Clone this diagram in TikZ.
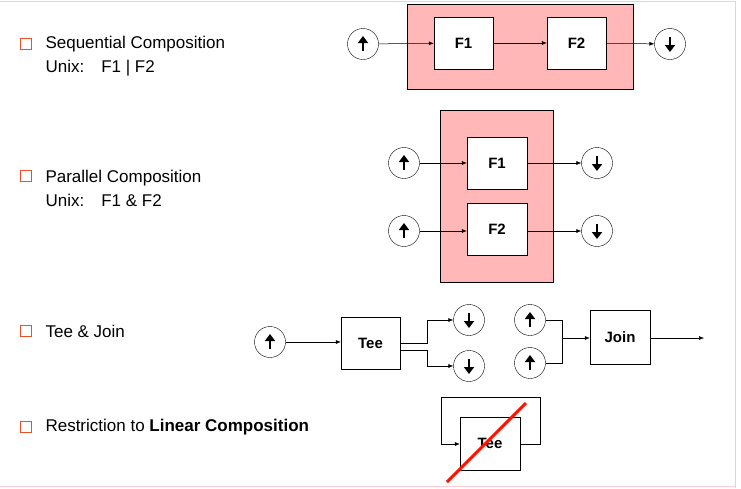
\documentclass[tikz,border=0pt]{standalone}
\usepackage{fontspec}
\setmainfont{Liberation Sans}
\usetikzlibrary{arrows.meta}
\definecolor{pinkbg}{RGB}{255,183,183}
\definecolor{bul}{RGB}{235,80,40}
\begin{document}
\begin{tikzpicture}[x=1pt,y=-1pt,
  box/.style={draw,fill=white,minimum width=59pt,minimum height=52pt,font=\bfseries\fontsize{15}{15}\selectfont,inner sep=0},
  port/.style={draw,circle,fill=white,minimum size=31pt,inner sep=0},
  up/.style={port,path picture={\draw[line width=2.6pt,-{Triangle[length=7pt,width=10pt]}] ([yshift=-7pt]path picture bounding box.center) -- ([yshift=8pt]path picture bounding box.center);}},
  dn/.style={port,path picture={\draw[line width=2.6pt,-{Triangle[length=7pt,width=10pt]}] ([yshift=7pt]path picture bounding box.center) -- ([yshift=-8pt]path picture bounding box.center);}},
  cont/.style={draw,fill=pinkbg},
  arr/.style={-{Latex[length=5pt,width=4pt]},line width=0.5pt},
  lbl/.style={anchor=west,font=\fontsize{17}{24}\selectfont,align=left},
  bullet/.style={draw=bul,line width=1.2pt,minimum size=11pt,inner sep=0}]
\useasboundingbox (0,0) rectangle (741,488);
\draw[gray!30,line width=1pt] (0,1) -- (735,1) -- (735,488);
\draw[pinkbg!70,line width=1pt] (0,486) -- (735,486);
% texts
\node[bullet] (b1) at (26,44) {};
\node[lbl] (t1) at (42,56) {Sequential Composition\\Unix:\quad F1 | F2};
\node[bullet] (b2) at (26,176) {};
\node[lbl] (t2) at (42,188) {Parallel Composition\\Unix:\quad F1 \& F2};
\node[bullet] (b3) at (26,331) {};
\node[lbl] (t3) at (42,331) {Tee \& Join};
\node[bullet] (b4) at (26,427) {};
\node[lbl] (t4) at (42,427) {Restriction to \textbf{Linear Composition}};
% sequential
\node[cont,minimum width=226pt,minimum height=85pt] (s) at (520,46.5) {};
\node[box] (sf1) at (463.5,43) {F1};
\node[box] (sf2) at (576.5,43) {F2};
\node[up] (si) at (363,44) {};
\node[dn] (so) at (670,44) {};
\draw[arr] (si) -- (sf1);
\draw[arr] (sf1) -- (sf2);
\draw[arr] (sf2) -- (so);
% parallel
\node[cont,minimum width=113pt,minimum height=172pt] (p) at (496.5,196) {};
\node[box,minimum width=60pt] (pf1) at (497,163) {F1};
\node[box,minimum width=60pt] (pf2) at (497,229) {F2};
\node[up] (pi1) at (404,163) {};
\node[up] (pi2) at (404,231) {};
\node[dn] (po1) at (597,163) {};
\node[dn] (po2) at (597,231) {};
\draw[arr] (pi1) -- (pi1 -| pf1.west);
\draw[arr] (pi2) -- (pi2 -| pf2.west);
\draw[arr] (po1 -| pf1.east) -- (po1);
\draw[arr] (po2 -| pf2.east) -- (po2);
% tee & join
\node[up] (ti) at (270,342) {};
\node[box] (tee) at (370.5,343) {Tee};
\node[dn] (to1) at (469,320) {};
\node[dn] (to2) at (469,366) {};
\draw[arr] (ti) -- (ti -| tee.west);
\draw[arr] (400,343) -- (427,343) |- (to1);
\draw[arr] (400,350) -- (427,350) |- (to2);
\node[up] (ji1) at (530,320) {};
\node[up] (ji2) at (530,363) {};
\node[box,minimum width=60pt,minimum height=54pt] (join) at (620,337) {Join};
\coordinate (jm) at (562,338);
\coordinate (jout) at (704,338);
\draw (ji1) -| (jm);
\draw (ji2) -| (jm);
\draw[arr] (jm) -- (join.west |- jm);
\draw[arr] (join.east |- jout) -- (jout);
% restriction
\node[box,minimum width=60pt,minimum height=53pt] (rt) at (490,443.5) {Tee};
\draw[arr] (rt.east |- 0,444) -- (540,444) -- (540,397) -- (441,397) -- (441,444) -- (rt.west |- 0,444);
\draw[red!85!orange,line width=3pt] (447,482) -- (526,403);
\end{tikzpicture}
\end{document}
